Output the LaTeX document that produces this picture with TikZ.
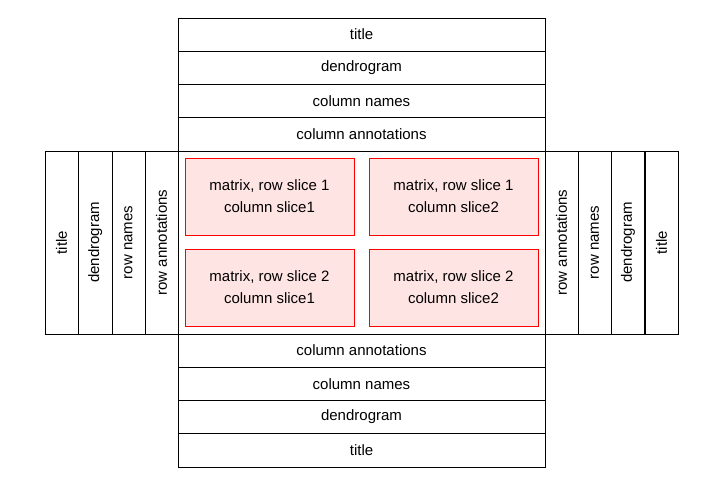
\documentclass[tikz,border=0pt]{standalone}
\usepackage{fontspec}
\setmainfont{Liberation Sans}
\usetikzlibrary{positioning}
\definecolor{slicefill}{RGB}{255,228,228}
\begin{document}
\begin{tikzpicture}[x=1pt,y=-1pt,node distance=0pt,font=\fontsize{15}{22}\selectfont,
                    hrow/.style={draw,thin,minimum width=367pt,minimum height=33.2pt,inner sep=0pt,outer sep=0pt},
                    vcol/.style={draw,thin,rotate=90,minimum width=183pt,minimum height=33.25pt,inner sep=0pt,outer sep=0pt},
                    slice/.style={draw=red,fill=slicefill,thin,minimum width=169pt,minimum height=77pt,align=center,inner sep=0pt}]
  \useasboundingbox (0,0) rectangle (720,487);

  % top
  \node[hrow] (ttitle) at (361.5,34.6) {title};
  \node[hrow] (tdend)  [below=of ttitle] {dendrogram};
  \node[hrow] (tnames) [below=of tdend]  {column names};
  \node[hrow] (tanno)  [below=of tnames] {column annotations};

  % bottom
  \node[hrow] (banno)  at (361.5,350.6) {column annotations};
  \node[hrow] (bnames) [below=of banno]  {column names};
  \node[hrow] (bdend)  [below=of bnames] {dendrogram};
  \node[hrow] (btitle) [below=of bdend]  {title};

  % left
  \node[vcol] (ltitle) at (61.6,242.5)  {title};
  \node[vcol] (ldend)  at (95.2,242.5)  {dendrogram};
  \node[vcol] (lnames) at (128.5,242.5) {row names};
  \node[vcol] (lanno)  at (161.6,242.5) {row annotations};

  % right
  \node[vcol] (ranno)  at (561.6,242.5) {row annotations};
  \node[vcol] (rnames) at (594.8,242.5) {row names};
  \node[vcol] (rdend)  at (628,242.5)   {dendrogram};
  \node[vcol] (rtitle) at (661.6,242.5) {title};

  % matrix body
  \draw[thin] (tanno.south west) rectangle (banno.north east);
  \node[slice] (s11) at (269.5,196.5) {matrix, row slice 1\\column slice1};
  \node[slice] (s12) at (453.5,196.5) {matrix, row slice 1\\column slice2};
  \node[slice] (s21) at (269.5,287.5) {matrix, row slice 2\\column slice1};
  \node[slice] (s22) at (453.5,287.5) {matrix, row slice 2\\column slice2};
\end{tikzpicture}
\end{document}
